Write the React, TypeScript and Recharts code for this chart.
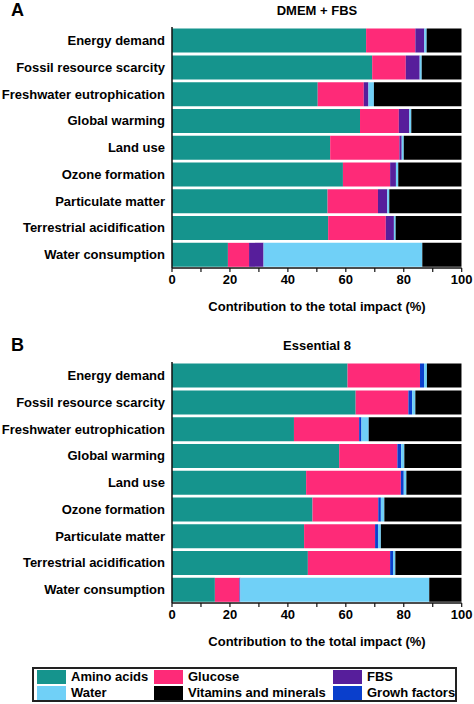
import { BarChart, Bar, XAxis, YAxis } from "recharts";

const categories = [
  "Energy demand",
  "Fossil resource scarcity",
  "Freshwater eutrophication",
  "Global warming",
  "Land use",
  "Ozone formation",
  "Particulate matter",
  "Terrestrial acidification",
  "Water consumption",
];

// DMEM + FBS (%)
const aAmino = [67.0, 69.1, 50.3, 64.9, 54.6, 59.0, 53.7, 53.9, 19.3];
const aGlucose = [17.0, 11.6, 15.9, 13.4, 23.9, 16.3, 17.4, 19.9, 7.3];
const aFbs = [3.1, 4.8, 1.6, 3.6, 0.8, 2.0, 3.2, 2.8, 5.0];
const aWater = [0.8, 0.7, 1.9, 0.7, 0.7, 0.8, 0.7, 0.6, 54.8];
const aVitamins = [12.1, 13.8, 30.3, 17.4, 20.0, 21.9, 25.0, 22.8, 13.6];

// Essential 8 (%)
const bAmino = [60.6, 63.4, 42.1, 57.7, 46.3, 48.5, 45.6, 46.9, 14.8];
const bGlucose = [25.0, 18.2, 22.5, 20.1, 32.7, 22.7, 24.5, 28.4, 8.5];
const bGrowth = [1.4, 1.3, 0.8, 1.3, 1.0, 0.9, 1.0, 1.0, 0.3];
const bWater = [1.0, 1.1, 2.5, 1.1, 0.9, 1.2, 1.0, 0.8, 65.2];
const bVitamins = [12.0, 16.0, 32.1, 19.8, 19.1, 26.7, 27.9, 22.9, 11.2];

const xTicks = [0, 10, 20, 30, 40, 50, 60, 70, 80, 90, 100];

const series = [
  { key: "amino", name: "Amino acids", color: "#15948D" },
  { key: "glucose", name: "Glucose", color: "#FE2A78" },
  { key: "fbs", name: "FBS", color: "#571E9B" },
  { key: "growth", name: "Growh factors", color: "#0A3FCC" },
  { key: "water", name: "Water", color: "#70D0F7" },
  { key: "vitamins", name: "Vitamins and minerals", color: "#000000" },
];

const legendOrder = ["amino", "glucose", "fbs", "water", "vitamins", "growth"];

const dataA = categories.map((name, i) => ({
  name,
  amino: aAmino[i],
  glucose: aGlucose[i],
  fbs: aFbs[i],
  growth: 0,
  water: aWater[i],
  vitamins: aVitamins[i],
}));

const dataB = categories.map((name, i) => ({
  name,
  amino: bAmino[i],
  glucose: bGlucose[i],
  fbs: 0,
  growth: bGrowth[i],
  water: bWater[i],
  vitamins: bVitamins[i],
}));

const FONT = "'Liberation Sans', Arial, sans-serif";
const txt = { fontFamily: FONT, fontWeight: 700, fontSize: 13, fill: "#000" };

function Panel({ data, top, letter, title }: { data: any[]; top: number; letter: string; title: string }) {
  return (
    <div style={{ position: "absolute", left: 0, top, width: 474, height: 320 }}>
      <BarChart width={474} height={320} data={data} layout="vertical" barCategoryGap="6%"
        margin={{ top: 27, right: 12.3, left: 0, bottom: 22 }}>
        <XAxis type="number" domain={[0, 100]} ticks={xTicks} allowDataOverflow
          tickFormatter={(v: number) => (v % 20 === 0 ? String(v) : "")}
          axisLine={{ stroke: "#111", strokeWidth: 1.5 }} tickLine={{ stroke: "#111", strokeWidth: 1.2 }}
          tickSize={4} tickMargin={3} height={30} tick={txt} interval={0} />
        <XAxis xAxisId="top" orientation="top" type="number" domain={[0, 100]} height={0}
          tick={false} tickLine={false} axisLine={{ stroke: "#111", strokeWidth: 1.5 }} />
        <YAxis type="category" dataKey="name" width={172} tickSize={0} tickMargin={7}
          axisLine={{ stroke: "#111", strokeWidth: 1.5 }} tickLine={false} tick={txt} interval={0} />
        <YAxis yAxisId="right" orientation="right" type="category" dataKey="name" width={0}
          tick={false} tickLine={false} axisLine={{ stroke: "#111", strokeWidth: 1.5 }} />
        {series.map(s => (
          <Bar key={s.key} dataKey={s.key} name={s.name} stackId="a" fill={s.color} isAnimationActive={false} />
        ))}
      </BarChart>
      <div style={{ position: "absolute", left: 11, top: 0, fontFamily: FONT, fontWeight: 700, fontSize: 18, lineHeight: "20px" }}>
        {letter}
      </div>
      <div style={{ position: "absolute", left: 172, width: 290, top: 2, textAlign: "center", fontFamily: FONT, fontWeight: 700, fontSize: 13, lineHeight: "18px" }}>
        {title}
      </div>
      <div style={{ position: "absolute", left: 172, width: 290, top: 298, textAlign: "center", fontFamily: FONT, fontWeight: 700, fontSize: 13, lineHeight: "18px" }}>
        Contribution to the total impact (%)
      </div>
    </div>
  );
}

export default function App() {
  const legendItems = legendOrder.map(k => series.find(s => s.key === k)!);
  return (
    <div style={{ position: "fixed", left: 0, top: 0, width: 474, height: 704, background: "#fff", overflow: "hidden" }}>
      <Panel data={dataA} top={0} letter="A" title="DMEM + FBS" />
      <Panel data={dataB} top={335} letter="B" title="Essential 8" />
      <div style={{
        position: "absolute", left: 32, top: 667, width: 418, height: 31, border: "2px solid #222",
        display: "grid", gridTemplateColumns: "117px 179px 1fr", gridTemplateRows: "15px 15px",
        rowGap: 1, padding: "0 0 0 3px", alignContent: "center",
      }}>
        {legendItems.map(s => (
          <div key={s.key} style={{ display: "flex", alignItems: "center", gap: 5, fontFamily: FONT, fontWeight: 700, fontSize: 13, whiteSpace: "nowrap" }}>
            <span style={{ display: "inline-block", width: 29, height: 14, background: s.color }} />
            {s.name}
          </div>
        ))}
      </div>
    </div>
  );
}
